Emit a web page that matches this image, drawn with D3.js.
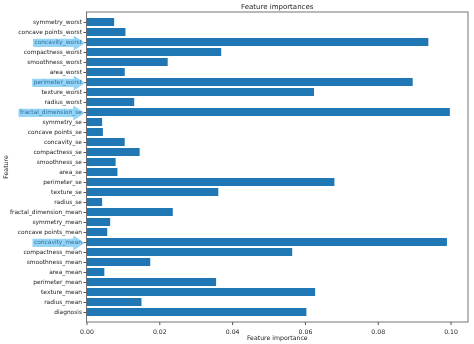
<!DOCTYPE html>
<html lang="en">
    <head>
        <meta charset="utf-8">
        <title>Feature importances</title>
        <script type="text/javascript" src="https://d3js.org/d3.v7.min.js"></script>
        <style type="text/css">
            body { margin: 0; background: #fff; }
            svg { will-change: transform; }
            text { font-family: "DejaVu Sans", sans-serif; fill: #222; }
        </style>
    </head>
    <body>
        <script type="text/javascript">
            //Width and height
            var w = 474;
            var h = 344;
            var margin = {top: 12, right: 6, bottom: 22, left: 86.5};

            //Feature names, bottom to top
            var features = ["diagnosis", "radius_mean", "texture_mean", "perimeter_mean", "area_mean",
                "smoothness_mean", "compactness_mean", "concavity_mean", "concave points_mean", "symmetry_mean",
                "fractal_dimension_mean", "radius_se", "texture_se", "perimeter_se", "area_se",
                "smoothness_se", "compactness_se", "concavity_se", "concave points_se", "symmetry_se",
                "fractal_dimension_se", "radius_worst", "texture_worst", "perimeter_worst", "area_worst",
                "smoothness_worst", "compactness_worst", "concavity_worst", "concave points_worst", "symmetry_worst"];

            var importances = [0.0604, 0.0151, 0.0628, 0.0356, 0.0049,
                0.0175, 0.0565, 0.0990, 0.0057, 0.0065,
                0.0237, 0.0043, 0.0362, 0.0681, 0.0085,
                0.0080, 0.0146, 0.0105, 0.0045, 0.0043,
                0.0998, 0.0131, 0.0625, 0.0896, 0.0105,
                0.0223, 0.0370, 0.0939, 0.0107, 0.0076];

            var highlighted = ["concavity_worst", "perimeter_worst", "fractal_dimension_se", "concavity_mean"];

            var xTicks = [0, 0.02, 0.04, 0.06, 0.08, 0.10];

            var n = features.length;

            var svg = d3.select("body")
                        .append("svg")
                        .attr("width", w)
                        .attr("height", h);

            var x = d3.scaleLinear()
                      .domain([0, d3.max(importances) * 1.05])
                      .range([margin.left, w - margin.right]);

            var y = d3.scaleLinear()
                      .domain([-1, n])
                      .range([h - margin.bottom, margin.top]);

            var barH = y(0) - y(0.8);

            //Bars
            svg.selectAll("rect.bar")
               .data(importances)
               .enter()
               .append("rect")
               .attr("class", "bar")
               .attr("x", x(0))
               .attr("y", function(d, i) { return y(i + 0.4); })
               .attr("width", function(d) { return x(d) - x(0); })
               .attr("height", barH)
               .attr("fill", "#1f77b4");

            //Axes
            var xAxis = svg.append("g")
                .attr("transform", "translate(0," + y(-1) + ")")
                .call(d3.axisBottom(x).tickValues(xTicks).tickFormat(d3.format(".2f")).tickSizeOuter(0).tickSize(3));

            var yAxis = svg.append("g")
                .attr("transform", "translate(" + x(0) + ",0)")
                .call(d3.axisLeft(y).tickValues(d3.range(n)).tickFormat(function(i) { return features[i]; }).tickSizeOuter(0).tickSize(3));

            [xAxis, yAxis].forEach(function(g) {
                g.select(".domain").remove();
                g.selectAll("line").attr("stroke", "#555");
                g.selectAll("text").attr("font-size", "5.9px").style("fill", "#222");
            });
            xAxis.selectAll("text").attr("font-size", "6.2px").attr("dy", "0.9em");
            yAxis.selectAll("text").attr("x", -4.5);

            //Arrow boxes behind highlighted labels
            yAxis.selectAll(".tick").each(function(i) {
                if (highlighted.indexOf(features[i]) < 0) return;
                var t = d3.select(this).select("text");
                var bb = t.node().getBBox();
                var cy = bb.y + bb.height / 2;
                var x0 = bb.x - 1.5, x1 = bb.x + bb.width - 9, tip = bb.x + bb.width + 2.5;
                var pts = [[x0, cy - 4.2], [x1, cy - 4.2], [x1, cy - 7.5], [tip, cy],
                           [x1, cy + 7.5], [x1, cy + 4.2], [x0, cy + 4.2]];
                d3.select(this).insert("path", "text")
                  .attr("d", d3.line()(pts) + "Z")
                  .attr("fill", "#94d4f6");
                t.style("fill", "#30709f");
            });

            //Frame
            svg.append("rect")
               .attr("x", x.range()[0])
               .attr("y", y.range()[1])
               .attr("width", x.range()[1] - x.range()[0])
               .attr("height", y.range()[0] - y.range()[1])
               .attr("fill", "none")
               .attr("stroke", "#666")
               .attr("stroke-width", 0.9);

            //Title and axis labels
            var cx = (x.range()[0] + x.range()[1]) / 2;
            svg.append("text")
               .attr("x", cx)
               .attr("y", 9)
               .attr("text-anchor", "middle")
               .attr("font-size", "7px")
               .text("Feature importances");

            svg.append("text")
               .attr("x", cx)
               .attr("y", 339.5)
               .attr("text-anchor", "middle")
               .attr("font-size", "6.2px")
               .text("Feature importance");

            svg.append("text")
               .attr("transform", "translate(8," + (y.range()[0] + y.range()[1]) / 2 + ") rotate(-90)")
               .attr("text-anchor", "middle")
               .attr("font-size", "6.2px")
               .text("Feature");
        </script>
    </body>
</html>
